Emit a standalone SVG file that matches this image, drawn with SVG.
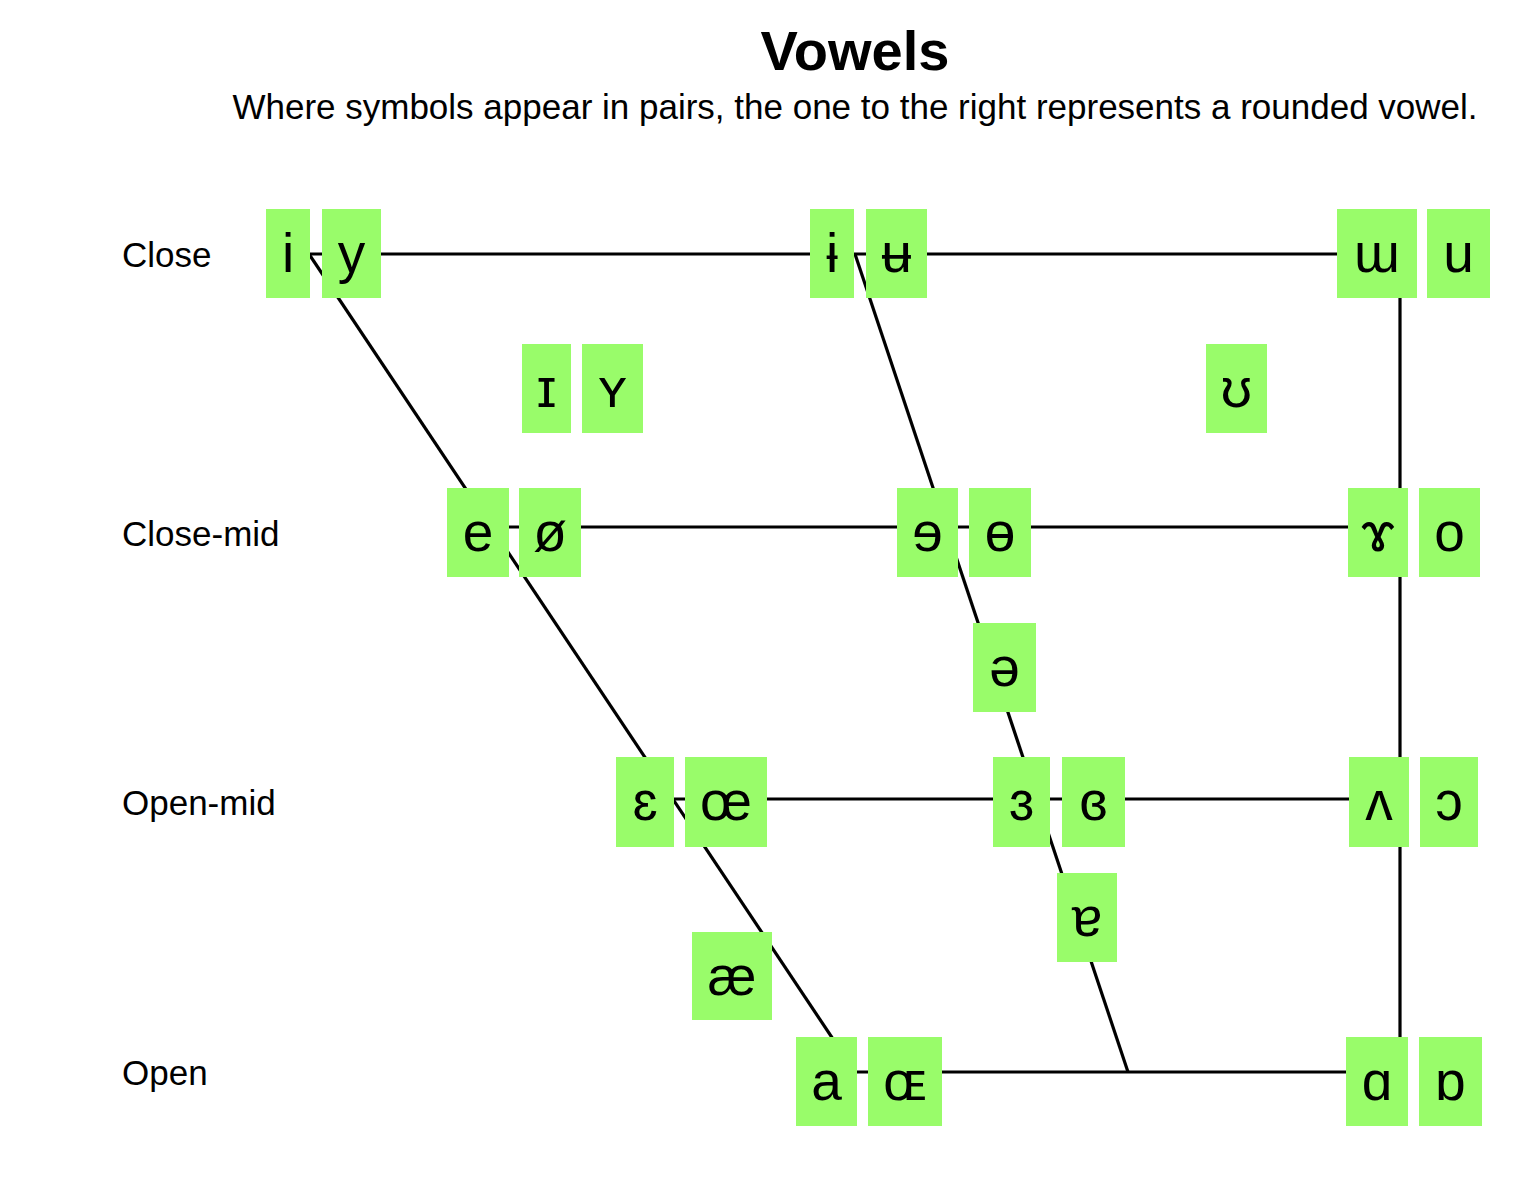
<svg xmlns="http://www.w3.org/2000/svg" width="1536" height="1178" viewBox="0 0 1536 1178">
<style>
.bg{fill:#ffffff}
.box{fill:#99fc6a}
.sym{font-family:"Liberation Sans","DejaVu Sans",sans-serif;font-size:55px;fill:#000;text-anchor:middle}
.lbl{font-family:"Liberation Sans","DejaVu Sans",sans-serif;font-size:35px;fill:#000}
.title{font-family:"Liberation Sans","DejaVu Sans",sans-serif;font-size:56px;font-weight:bold;fill:#000;text-anchor:middle}
.sub{font-family:"Liberation Sans","DejaVu Sans",sans-serif;font-size:35px;fill:#000;text-anchor:middle}
.edge{stroke:#000;stroke-width:3.2;fill:none}
</style>
<rect class="bg" x="0" y="0" width="1536" height="1178"/>
<text class="title" x="855" y="70">Vowels</text>
<text class="sub" x="855" y="119">Where symbols appear in pairs, the one to the right represents a rounded vowel.</text>
<g id="labels">
<text class="lbl" x="122" y="267">Close</text>
<text class="lbl" x="122" y="546">Close-mid</text>
<text class="lbl" x="122" y="815">Open-mid</text>
<text class="lbl" x="122" y="1085">Open</text>
</g>
<g id="connectors">
<path class="edge" d="M309,254 H1400"/>
<path class="edge" d="M309,254 L855,1072"/>
<path class="edge" d="M491,527 H1400"/>
<path class="edge" d="M672,799 H1400"/>
<path class="edge" d="M855,1072 H1400"/>
<path class="edge" d="M855,254 L1128,1072"/>
<path class="edge" d="M1400,254 V1072"/>
</g>
<g id="n-i"><rect class="box" x="266" y="209" width="44" height="89"/><text class="sym" x="288" y="272">i</text></g>
<g id="n-y"><rect class="box" x="322" y="209" width="59" height="89"/><text class="sym" x="351.5" y="272">y</text></g>
<g id="n-barred-i"><rect class="box" x="810" y="209" width="44" height="89"/><text class="sym" x="832" y="272">ɨ</text></g>
<g id="n-barred-u"><rect class="box" x="866" y="209" width="61" height="89"/><text class="sym" x="896.5" y="272">ʉ</text></g>
<g id="n-turned-m"><rect class="box" x="1337" y="209" width="80" height="89"/><text class="sym" x="1377" y="272">ɯ</text></g>
<g id="n-u"><rect class="box" x="1427" y="209" width="63" height="89"/><text class="sym" x="1458.5" y="272">u</text></g>
<g id="n-small-cap-i"><rect class="box" x="522" y="344" width="49" height="89"/><text class="sym" x="546.5" y="407">ɪ</text></g>
<g id="n-small-cap-y"><rect class="box" x="582" y="344" width="61" height="89"/><text class="sym" x="612.5" y="407">ʏ</text></g>
<g id="n-upsilon"><rect class="box" x="1206" y="344" width="61" height="89"/><text class="sym" x="1236.5" y="407">ʊ</text></g>
<g id="n-e"><rect class="box" x="447" y="488" width="62" height="89"/><text class="sym" x="478" y="551">e</text></g>
<g id="n-o-slash"><rect class="box" x="519" y="488" width="62" height="89"/><text class="sym" x="550" y="551">ø</text></g>
<g id="n-rev-e"><rect class="box" x="897" y="488" width="61" height="89"/><text class="sym" x="927.5" y="551">ɘ</text></g>
<g id="n-barred-o"><rect class="box" x="969" y="488" width="62" height="89"/><text class="sym" x="1000" y="551">ɵ</text></g>
<g id="n-rams-horn"><rect class="box" x="1348" y="488" width="60" height="89"/><text class="sym" x="1378" y="551">ɤ</text></g>
<g id="n-o"><rect class="box" x="1419" y="488" width="61" height="89"/><text class="sym" x="1449.5" y="551">o</text></g>
<g id="n-schwa"><rect class="box" x="973" y="623" width="63" height="89"/><text class="sym" x="1004.5" y="686">ə</text></g>
<g id="n-epsilon"><rect class="box" x="616" y="757" width="58" height="90"/><text class="sym" x="645" y="820">ɛ</text></g>
<g id="n-oe"><rect class="box" x="685" y="757" width="82" height="90"/><text class="sym" x="726" y="820">œ</text></g>
<g id="n-rev-epsilon"><rect class="box" x="993" y="757" width="57" height="90"/><text class="sym" x="1021.5" y="820">ɜ</text></g>
<g id="n-closed-rev-epsilon"><rect class="box" x="1062" y="757" width="63" height="90"/><text class="sym" x="1093.5" y="820">ɞ</text></g>
<g id="n-turned-v"><rect class="box" x="1349" y="757" width="60" height="90"/><text class="sym" x="1379" y="820">ʌ</text></g>
<g id="n-open-o"><rect class="box" x="1420" y="757" width="58" height="90"/><text class="sym" x="1449" y="820">ɔ</text></g>
<g id="n-turned-a"><rect class="box" x="1057" y="873" width="60" height="89"/><text class="sym" x="1087" y="936">ɐ</text></g>
<g id="n-ash"><rect class="box" x="692" y="932" width="80" height="88"/><text class="sym" x="732" y="995">æ</text></g>
<g id="n-a"><rect class="box" x="796" y="1037" width="61" height="89"/><text class="sym" x="826.5" y="1100">a</text></g>
<g id="n-small-cap-oe"><rect class="box" x="868" y="1037" width="74" height="89"/><text class="sym" x="905" y="1100">ɶ</text></g>
<g id="n-script-a"><rect class="box" x="1346" y="1037" width="62" height="89"/><text class="sym" x="1377" y="1100">ɑ</text></g>
<g id="n-turned-script-a"><rect class="box" x="1419" y="1037" width="63" height="89"/><text class="sym" x="1450.5" y="1100">ɒ</text></g>
</svg>
